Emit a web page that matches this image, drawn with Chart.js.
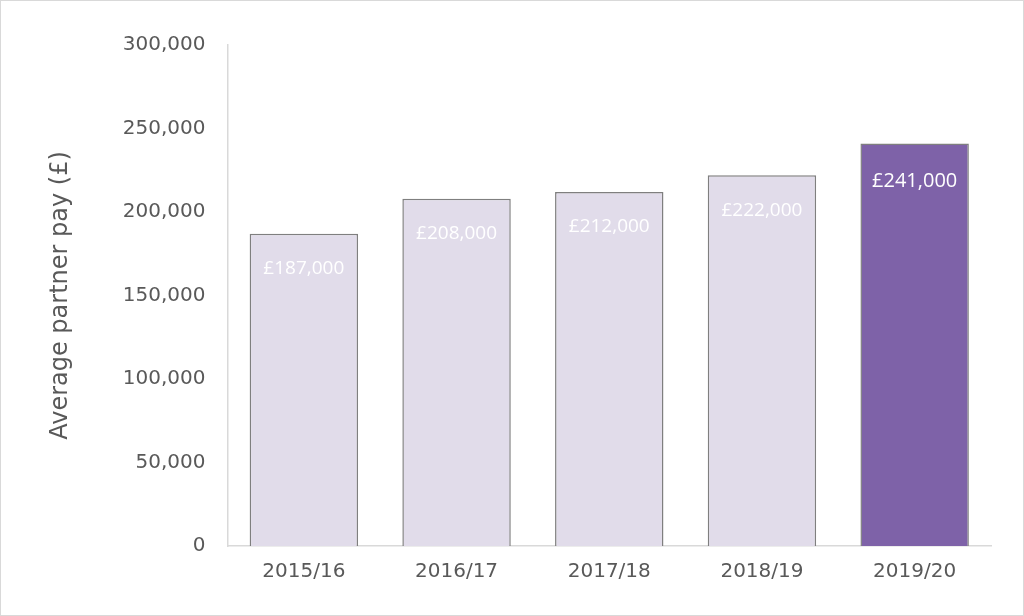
<!DOCTYPE html>
<html>
<head>
<meta charset="utf-8">
<script src="https://cdn.jsdelivr.net/npm/chart.js@4"></script>
<style>
  html, body { margin: 0; padding: 0; background: #fff; }
  #wrap { width: 1022px; height: 614px; border: 1px solid #d9d9d9; }
</style>
</head>
<body>
<div id="wrap"><canvas id="c" width="1022" height="614"></canvas></div>
<script>
// Average partner pay by year
const years = ['2015/16', '2016/17', '2017/18', '2018/19', '2019/20'];
const pay = [187000, 208000, 212000, 222000, 241000];
const barColors = ['#e1dcea', '#e1dcea', '#e1dcea', '#e1dcea', '#7e62a8'];

// white £ labels just under the top of each bar
const barLabels = {
    id: 'barLabels',
    afterDatasetsDraw: function(chart) {
        const ctx = chart.ctx;
        const meta = chart.getDatasetMeta(0);
        ctx.save();
        ctx.fillStyle = '#ffffff';
        ctx.textAlign = 'center';
        ctx.textBaseline = 'middle';
        meta.data.forEach(function(bar, i) {
            const last = i === pay.length - 1;
            ctx.font = (last ? '20px' : '19px') + ' "Open Sans", sans-serif';
            ctx.fillText('£' + pay[i].toLocaleString('en-GB'), bar.x, bar.y + (last ? 38 : 35));
        });
        ctx.restore();
    }
};

new Chart(document.getElementById('c').getContext('2d'), {
    type: 'bar',
    data: {
        labels: years,
        datasets: [{
            data: pay,
            backgroundColor: barColors,
            borderColor: '#7f7f7f',
            borderWidth: 1.5,
            borderSkipped: 'bottom',
            categoryPercentage: 1,
            barPercentage: 0.71
        }]
    },
    options: {
        responsive: false,
        animation: false,
        layout: { padding: { top: 44, right: 32, left: 41, bottom: 17 } },
        plugins: { legend: { display: false }, tooltip: { enabled: false } },
        scales: {
            x: {
                grid: { display: false, drawTicks: false },
                border: { color: '#d9d9d9', width: 1.5 },
                ticks: { color: '#595959', font: { size: 20, family: '"DejaVu Sans", sans-serif' }, padding: 14 }
            },
            y: {
                min: 0,
                max: 300000,
                grid: { display: false, drawTicks: false },
                border: { color: '#d9d9d9', width: 1.5 },
                ticks: {
                    stepSize: 50000,
                    color: '#595959',
                    padding: 22,
                    font: { size: 20, family: '"DejaVu Sans", sans-serif' },
                    callback: function(v) { return v.toLocaleString('en-GB'); }
                },
                title: {
                    display: true,
                    text: 'Average partner pay (£)',
                    color: '#595959',
                    font: { size: 24, family: '"DejaVu Sans", sans-serif' },
                    padding: { bottom: 26 }
                }
            }
        }
    },
    plugins: [barLabels]
});
</script>
</body>
</html>
